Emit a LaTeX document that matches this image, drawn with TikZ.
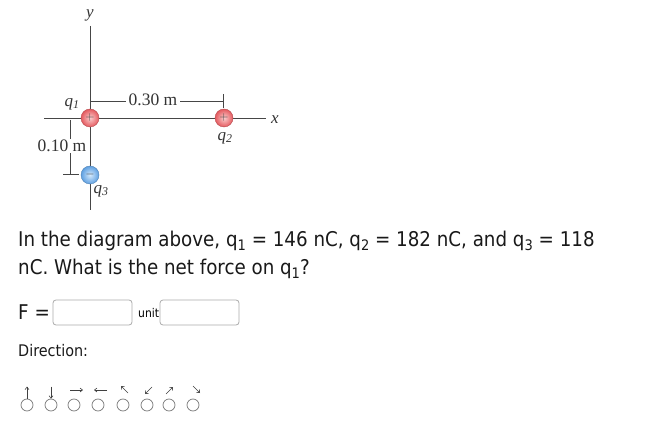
\documentclass[tikz,border=0pt]{standalone}
\usepackage{fontspec}
\setmainfont{Liberation Serif}
\newfontfamily\uifont{DejaVu Sans Condensed}
\usetikzlibrary{arrows.meta}
\definecolor{axisgray}{RGB}{70,70,70}
\definecolor{boxgray}{RGB}{170,170,170}
\definecolor{radiogray}{RGB}{120,120,120}
\definecolor{posred}{RGB}{228,90,95}
\definecolor{poslight}{RGB}{252,205,205}
\definecolor{negblue}{RGB}{95,160,225}
\definecolor{neglight}{RGB}{210,232,252}
\tikzset{
  axis/.style={draw=axisgray, line width=0.8pt},
  dim/.style={draw=axisgray, line width=0.8pt},
  dimlabel/.style={font=\fontsize{17.5}{17.5}\selectfont, inner xsep=3pt, inner ysep=1pt, fill=white, text=black!80},
  qlabel/.style={font=\fontsize{17}{17}\selectfont\itshape, inner sep=0pt, text=black!80},
  poscharge/.style={circle, minimum size=18pt, inner sep=0pt, shading=radial, inner color=poslight, outer color=posred, draw=posred!80!black, line width=0.4pt, font=\fontsize{13}{13}\selectfont, text=black!75},
  negcharge/.style={circle, minimum size=18pt, inner sep=0pt, shading=radial, inner color=neglight, outer color=negblue, draw=negblue!80!black, line width=0.4pt, font=\fontsize{13}{13}\selectfont, text=black!75},
  bodytext/.style={font=\uifont\fontsize{20.3}{28}\selectfont, anchor=base west, inner sep=0pt, text=black!90},
  inputbox/.style={draw=boxgray, rounded corners=3pt, line width=0.8pt},
  radio/.style={circle, draw=radiogray, line width=0.7pt, minimum size=12pt, inner sep=0pt},
  dirarrow/.style={draw=black!75, line width=0.6pt, -{Straight Barb[length=2.5pt,width=4pt]}}
}
\newcommand{\qsub}[1]{\raisebox{-0.3ex}{\fontsize{14.5}{14.5}\selectfont #1}}
\begin{document}
\begin{tikzpicture}[x=1pt,y=-1pt]
\useasboundingbox (0,0) rectangle (661,438);
% axes
\coordinate (ytop) at (90,26);
\coordinate (ybot) at (90,210);
\coordinate (xleft) at (44,118);
\coordinate (xright) at (266,118);
\draw[axis] (ytop) -- (ybot);
\draw[axis] (xleft) -- (xright);
\node[qlabel] (ylab) at (90,15) {y};
\node[qlabel] (xlab) at (275,120) {x};
% dimension 0.30 m
\coordinate (d1a) at (90,101);
\coordinate (d1b) at (223,101);
\coordinate (d1t) at (223,94);
\coordinate (d1u) at (223,108);
\draw[dim] (d1a) -- (d1b);
\draw[dim] (d1t) -- (d1u);
\node[dimlabel] (d1lab) at (153,100) {0.30 m};
% dimension 0.10 m
\coordinate (d2a) at (70,120);
\coordinate (d2b) at (70,174);
\coordinate (d2l) at (63,174);
\coordinate (d2r) at (79,174);
\draw[dim] (d2a) -- (d2b);
\draw[dim] (d2l) -- (d2r);
\node[dimlabel, inner xsep=1pt] (d2lab) at (62,146) {0.10 m};
% charges
\node[poscharge] (q1) at (90,118) {$+$};
\node[poscharge] (q2) at (224,118) {$+$};
\node[negcharge] (q3) at (90,175) {$-$};
\node[qlabel] (q1lab) at (72,104) {q\textsubscript{1}};
\node[qlabel] (q2lab) at (225,138) {q\textsubscript{2}};
\node[qlabel] (q3lab) at (101,191) {q\textsubscript{3}};
% question text
\node[bodytext] (line1) at (18,247) {In the diagram above, q\qsub{1} = 146 nC, q\qsub{2} = 182 nC, and q\qsub{3} = 118};
\node[bodytext] (line2) at (18,275) {nC. What is the net force on q\qsub{1}?};
\node[bodytext] (flab) at (18,319) {F =};
\draw[inputbox] (53,300) rectangle (132,325);
\node[font=\uifont\fontsize{12}{12}\selectfont, anchor=base west, inner sep=0pt] (unit) at (138,317) {unit};
\draw[inputbox] (160,300) rectangle (239,325);
\node[font=\uifont\fontsize{16}{16}\selectfont, anchor=base west, inner sep=0pt, text=black!90] (dir) at (18,356) {Direction:};
% radio buttons
\foreach \i/\x in {1/27,2/51,3/74,4/98,5/123,6/147,7/169,8/193}{
  \node[radio] (r\i) at (\x,405) {};
}
\draw[dirarrow] (r1.north) -- ++(0,-12);
\draw[dirarrow] ([yshift=12pt]r2.north) -- (r2.north);
\draw[dirarrow] (70,390) -- (83,390);
\draw[dirarrow] (107,390) -- (94,390);
\draw[dirarrow] (128,393) -- (121,386);
\draw[dirarrow] (152,387) -- (145,394);
\draw[dirarrow] (166,394) -- (173,387);
\draw[dirarrow] (193,386) -- (200,393);
\end{tikzpicture}
\end{document}
